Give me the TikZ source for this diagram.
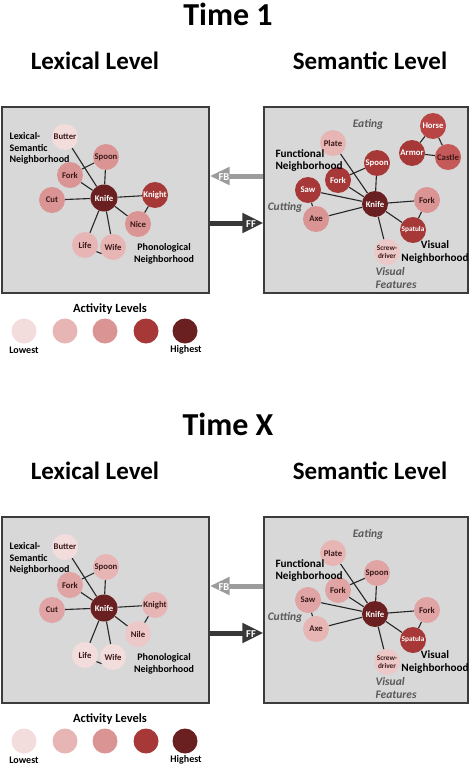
\documentclass[tikz,border=0pt]{standalone}
\usepackage{fontspec}
\setmainfont{Carlito}
\usetikzlibrary{arrows.meta}
\definecolor{Lone}{HTML}{F3DCDC}
\definecolor{Lonetwo}{HTML}{EDC8C8}
\definecolor{Ltwo}{HTML}{E8B5B5}
\definecolor{Lmid}{HTML}{E0A4A4}
\definecolor{Lthree}{HTML}{DA9494}
\definecolor{Lcastle}{HTML}{C55858}
\definecolor{Lred}{HTML}{B84444}
\definecolor{Lfour}{HTML}{A73838}
\definecolor{Lfive}{HTML}{6A2020}
\definecolor{txtdark}{HTML}{3C1A1A}
\definecolor{panelfill}{HTML}{D8D8D8}
\definecolor{panelline}{HTML}{3C3C3C}
\definecolor{italgray}{HTML}{595959}
\definecolor{fbgray}{HTML}{9C9C9C}
\definecolor{ffgray}{HTML}{383838}
\pgfdeclarelayer{panels}
\pgfdeclarelayer{edges}
\pgfsetlayers{panels,edges,main}
\tikzset{
  word/.style={circle, inner sep=0pt, minimum size=26pt, fill=#1, text=txtdark, align=center,
    font=\bfseries\fontsize{8.7}{8.7}\selectfont},
  hot/.style={word=#1, text=white},
  wee/.style={font=\bfseries\fontsize{7.3}{7.6}\selectfont},
  link/.style={draw=black!85, line width=1.1pt},
  panel/.style={draw=panelline, fill=panelfill, line width=1.4pt, inner sep=0pt},
  title/.style={font=\bfseries\fontsize{32}{32}\selectfont},
  levelname/.style={font=\bfseries\fontsize{25}{25}\selectfont},
  hood/.style={font=\bfseries\fontsize{10}{11.5}\selectfont},
  bighood/.style={font=\bfseries\fontsize{11.2}{12.5}\selectfont},
  feature/.style={text=italgray, font=\bfseries\itshape\fontsize{11.5}{12.5}\selectfont},
  legend/.style={font=\bfseries\fontsize{12.5}{13}\selectfont},
  endlabel/.style={font=\bfseries\fontsize{10}{10}\selectfont},
  dot/.style={circle, minimum size=25pt, inner sep=0pt, fill=#1},
  fb/.style={draw=fbgray, line width=5pt, -{Triangle[length=20pt,width=17pt]}},
  ff/.style={draw=ffgray, line width=5pt, -{Triangle[length=21pt,width=19pt]}},
  arrowtext/.style={text=white, font=\bfseries\fontsize{10.5}{10.5}\selectfont},
}
\begin{document}
\begin{tikzpicture}[x=1pt,y=-1pt]
\useasboundingbox (0,0) rectangle (474,765);
% ================= TIME 1 =================
\node[title] (tTitle) at (228,14) {Time 1};
\node[levelname] (tLex) at (95,61) {Lexical Level};
\node[levelname] (tSem) at (370,61) {Semantic Level};
\begin{pgfonlayer}{panels}
\node[panel, minimum width=207pt, minimum height=186pt] (tL) at (105.5,200) {};
\node[panel, minimum width=204pt, minimum height=186pt] (tR) at (366,200) {};
\end{pgfonlayer}
% left nodes
\node[word=Lone] (tButter) at (65,137) {Butter};
\node[word=Lthree] (tSpoonL) at (106,157) {Spoon};
\node[word=Lthree] (tForkL) at (70,175) {Fork};
\node[word=Lthree] (tCut) at (52,200) {Cut};
\node[hot=Lfive, minimum size=27pt] (tKnifeL) at (104,198) {Knife};
\node[hot=Lfour] (tKnight) at (155,195) {Knight};
\node[word=Lthree] (tNice) at (138,224) {Nice};
\node[word=Ltwo] (tLife) at (85,245) {Life};
\node[word=Ltwo] (tWife) at (113,247) {Wife};
\node[hood, align=left, anchor=north west] (tLSN) at (6,129) {Lexical-\\Semantic\\Neighborhood};
\node[hood, align=center] (tPN) at (164,254) {Phonological\\Neighborhood};
% right nodes
\node[word=Ltwo] (tPlate) at (333,143) {Plate};
\node[hot=Lfour] (tSpoonR) at (377,163) {Spoon};
\node[hot=Lfour] (tForkR) at (338,180) {Fork};
\node[hot=Lfour] (tSaw) at (308,190) {Saw};
\node[word=Lthree] (tAxe) at (316,219) {Axe};
\node[hot=Lfive] (tKnifeR) at (375,204) {Knife};
\node[word=Lthree] (tForkV) at (427,200) {Fork};
\node[hot=Lfour, wee] (tSpatula) at (413,230) {Spatula};
\node[word=Lonetwo, wee] (tScrew) at (387,252) {Screw-\\driver};
\node[hot=Lred] (tHorse) at (433,126) {Horse};
\node[hot=Lfour] (tArmor) at (412,153) {Armor};
\node[word=Lcastle] (tCastle) at (448,157) {Castle};
\node[feature] (tEat) at (368,124) {Eating};
\node[feature] (tCutting) at (285,207) {Cutting};
\node[feature, align=left, anchor=north west] (tVF) at (372,264) {Visual\\Features};
\node[bighood, align=left, anchor=north west] (tFN) at (272,146) {Functional\\Neighborhood};
\node[bighood, align=center] (tVN) at (435,252) {Visual\\Neighborhood};
\begin{pgfonlayer}{edges}
\draw[link] (tButter) -- (tKnifeL);
\draw[link] (tSpoonL) -- (tKnifeL);
\draw[link] (tForkL) -- (tSpoonL);
\draw[link] (tForkL) -- (tKnifeL);
\draw[link] (tCut) -- (tKnifeL);
\draw[link] (tKnifeL) -- (tKnight);
\draw[link] (tKnifeL) -- (tNice);
\draw[link] (tKnight) -- (tNice);
\draw[link] (tKnifeL) -- (tLife);
\draw[link] (tKnifeL) -- (tWife);
\draw[link] (tLife.-30) -- (tWife.210);
\draw[link] (tPlate) -- (tKnifeR);
\draw[link] (tSpoonR) -- (tKnifeR);
\draw[link] (tForkR) -- (tSpoonR);
\draw[link] (tForkR) -- (tKnifeR);
\draw[link] (tSaw) -- (tKnifeR);
\draw[link] (tSaw) -- (tAxe);
\draw[link] (tAxe) -- (tKnifeR);
\draw[link] (tKnifeR) -- (tForkV);
\draw[link] (tKnifeR) -- (tSpatula);
\draw[link] (tForkV) -- (tSpatula);
\draw[link] (tKnifeR) -- (tScrew);
\draw[link] (tHorse) -- (tArmor);
\draw[link] (tHorse) -- (tCastle);
\draw[link] (tArmor) -- (tCastle);
\end{pgfonlayer}
\draw[fb] ([yshift=24pt]tR.west) -- ([yshift=24pt]tL.east);
\draw[ff] ([yshift=-23pt]tL.east) -- ([yshift=-23pt]tR.west);
\node[arrowtext] (tFB) at (224,177) {FB};
\node[arrowtext] (tFF) at (251,224) {FF};
% legend
\node[legend] (tAL) at (110,309) {Activity Levels};
\node[dot=Lone] (tA1) at (24,331) {};
\node[dot=Ltwo] (tA2) at (65,331) {};
\node[dot=Lthree] (tA3) at (105,331) {};
\node[dot=Lfour] (tA4) at (146,331) {};
\node[dot=Lfive] (tA5) at (185,331) {};
\node[endlabel] (tLow) at (24,350) {Lowest};
\node[endlabel] (tHigh) at (186,350) {Highest};
% ================= TIME X =================
\begin{scope}[shift={(0,410)}]
\node[title] (xTitle) at (228,14) {Time X};
\node[levelname] (xLex) at (95,61) {Lexical Level};
\node[levelname] (xSem) at (370,61) {Semantic Level};
\begin{pgfonlayer}{panels}
\node[panel, minimum width=207pt, minimum height=186pt] (xL) at (105.5,200) {};
\node[panel, minimum width=204pt, minimum height=186pt] (xR) at (366,200) {};
\end{pgfonlayer}
\node[word=Lone] (xButter) at (65,137) {Butter};
\node[word=Ltwo] (xSpoonL) at (106,157) {Spoon};
\node[word=Lmid] (xForkL) at (70,175) {Fork};
\node[word=Lmid] (xCut) at (52,200) {Cut};
\node[hot=Lfive, minimum size=27pt] (xKnifeL) at (104,198) {Knife};
\node[word=Ltwo] (xKnight) at (155,195) {Knight};
\node[word=Lonetwo] (xNile) at (138,224) {Nile};
\node[word=Lone] (xLife) at (85,245) {Life};
\node[word=Lone] (xWife) at (113,247) {Wife};
\node[hood, align=left, anchor=north west] (xLSN) at (6,129) {Lexical-\\Semantic\\Neighborhood};
\node[hood, align=center] (xPN) at (164,254) {Phonological\\Neighborhood};
\node[word=Ltwo] (xPlate) at (333,143) {Plate};
\node[word=Lmid] (xSpoonR) at (377,163) {Spoon};
\node[word=Lmid] (xForkR) at (338,180) {Fork};
\node[word=Lmid] (xSaw) at (308,190) {Saw};
\node[word=Ltwo] (xAxe) at (316,219) {Axe};
\node[hot=Lfive] (xKnifeR) at (375,204) {Knife};
\node[word=Lmid] (xForkV) at (427,200) {Fork};
\node[hot=Lfour, wee] (xSpatula) at (413,230) {Spatula};
\node[word=Lonetwo, wee] (xScrew) at (387,252) {Screw-\\driver};
\node[feature] (xEat) at (368,124) {Eating};
\node[feature] (xCutting) at (285,207) {Cutting};
\node[feature, align=left, anchor=north west] (xVF) at (372,264) {Visual\\Features};
\node[bighood, align=left, anchor=north west] (xFN) at (272,146) {Functional\\Neighborhood};
\node[bighood, align=center] (xVN) at (435,252) {Visual\\Neighborhood};
\begin{pgfonlayer}{edges}
\draw[link] (xButter) -- (xKnifeL);
\draw[link] (xSpoonL) -- (xKnifeL);
\draw[link] (xForkL) -- (xSpoonL);
\draw[link] (xForkL) -- (xKnifeL);
\draw[link] (xCut) -- (xKnifeL);
\draw[link] (xKnifeL) -- (xKnight);
\draw[link] (xKnifeL) -- (xNile);
\draw[link] (xKnight) -- (xNile);
\draw[link] (xKnifeL) -- (xLife);
\draw[link] (xKnifeL) -- (xWife);
\draw[link] (xLife.-30) -- (xWife.210);
\draw[link] (xPlate) -- (xKnifeR);
\draw[link] (xSpoonR) -- (xKnifeR);
\draw[link] (xForkR) -- (xSpoonR);
\draw[link] (xForkR) -- (xKnifeR);
\draw[link] (xSaw) -- (xKnifeR);
\draw[link] (xSaw) -- (xAxe);
\draw[link] (xAxe) -- (xKnifeR);
\draw[link] (xKnifeR) -- (xForkV);
\draw[link] (xKnifeR) -- (xSpatula);
\draw[link] (xForkV) -- (xSpatula);
\draw[link] (xKnifeR) -- (xScrew);
\end{pgfonlayer}
\draw[fb] ([yshift=24pt]xR.west) -- ([yshift=24pt]xL.east);
\draw[ff] ([yshift=-23pt]xL.east) -- ([yshift=-23pt]xR.west);
\node[arrowtext] (xFB) at (224,177) {FB};
\node[arrowtext] (xFF) at (251,224) {FF};
\node[legend] (xAL) at (110,309) {Activity Levels};
\node[dot=Lone] (xA1) at (24,331) {};
\node[dot=Ltwo] (xA2) at (65,331) {};
\node[dot=Lthree] (xA3) at (105,331) {};
\node[dot=Lfour] (xA4) at (146,331) {};
\node[dot=Lfive] (xA5) at (185,331) {};
\node[endlabel] (xLow) at (24,350) {Lowest};
\node[endlabel] (xHigh) at (186,350) {Highest};
\end{scope}
\end{tikzpicture}
\end{document}
